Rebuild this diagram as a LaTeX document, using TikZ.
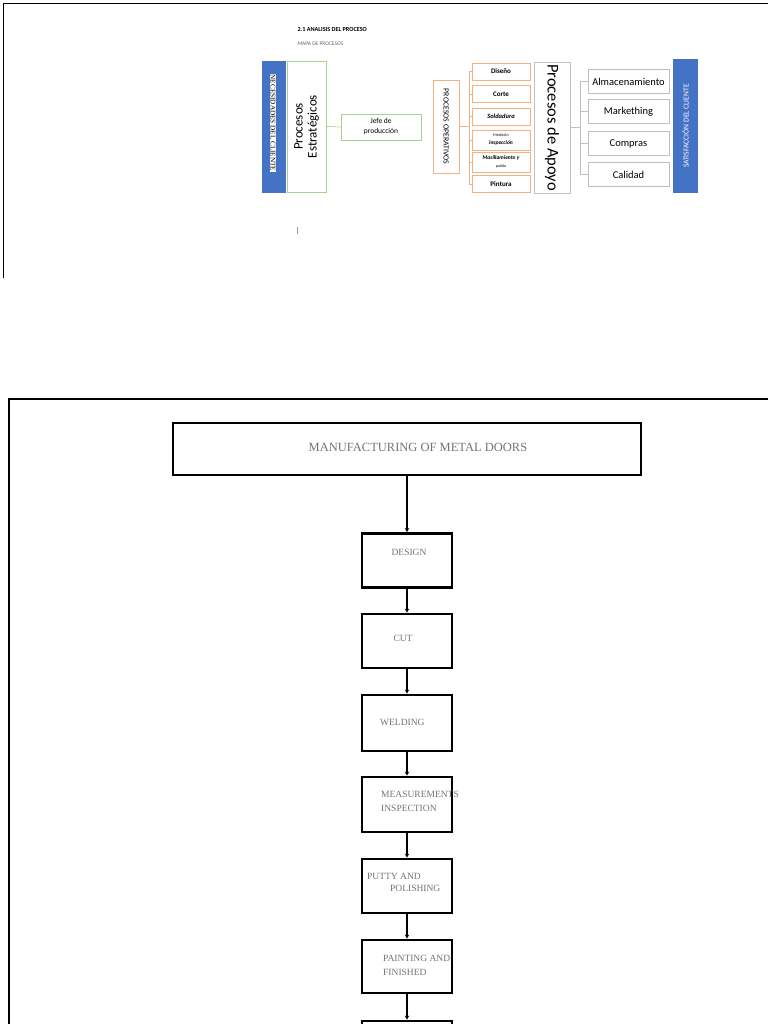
\documentclass[tikz,border=0pt]{standalone}
\usepackage{fontspec}
\setmainfont{Liberation Serif}
\newfontfamily\calibfont{Carlito}
\usetikzlibrary{positioning, arrows.meta, shadows}
\definecolor{docblue}{HTML}{4472C4}
\definecolor{docgreen}{HTML}{A9D18E}
\definecolor{docorange}{HTML}{F4B183}
\definecolor{docgray}{HTML}{BFBFBF}

\begin{document}
\begin{tikzpicture}[x=1pt, y=-1pt,
    flowbox/.style={draw, line width=2.9pt, minimum width=90pt, minimum height=54pt, inner sep=0pt},
    flowtext/.style={text=black!55, font=\fontsize{9.5}{14}\selectfont, inner sep=0pt, align=left},
    flowarrow/.style={line width=2pt, -{Stealth[length=4pt, width=4.5pt]}},
    mapbox/.style={line width=0.8pt, inner sep=0pt, align=center},
    opchild/.style={mapbox, draw=docorange, minimum width=58pt, font=\calibfont\fontsize{7}{8}\selectfont},
    supchild/.style={mapbox, draw=docgray, fill=white, minimum width=81pt, font=\calibfont\fontsize{10.5}{12}\selectfont,
        drop shadow={shadow xshift=0.8pt, shadow yshift=-0.8pt, fill=black!20}},
    mapline/.style={line width=0.7pt}
]
    \useasboundingbox (0,0) rectangle (768,1024);

    % page frames
    \draw[line width=1.2pt] (3.5,278) -- (3.5,3.5) -- (768,3.5);
    \draw[line width=2pt] (9,1024) -- (9,399) -- (768,399);

    % process map (top)
    \node[anchor=west, font=\calibfont\bfseries\fontsize{6.2}{7}\selectfont] (head) at (294,29) {2.1 ANALISIS DEL PROCESO};
    \node[anchor=west, text=black!60, font=\calibfont\fontsize{5.5}{6}\selectfont] (sub) at (294,44) {MAPA DE PROCESOS};

    \node[mapbox, rotate=-90, fill=docblue, minimum width=132pt, minimum height=24pt] (need) at (274,127) {};
    \node[rotate=-90, fill=white, inner sep=1pt, font=\fontsize{7.2}{8}\selectfont] (needtext) at (273,123) {NECESIDADES DEL CLIENTE};

    \node[mapbox, rotate=90, draw=docgreen, minimum width=131pt, minimum height=39pt,
        font=\calibfont\fontsize{13}{14}\selectfont] (estr) at (306.5,126.5) {Procesos\\Estratégicos};
    \node[mapbox, draw=docgreen, minimum width=80pt, minimum height=26pt,
        font=\calibfont\fontsize{7.5}{10}\selectfont] (jefe) at (381,127) {Jefe de\\producción};
    \draw[mapline, docgreen] (estr.south) -- (jefe.west);

    \node[mapbox, rotate=-90, draw=docorange, minimum width=93pt, minimum height=26pt,
        font=\calibfont\fontsize{7.8}{9}\selectfont] (procop) at (446,126.5) {PROCESOS OPERATIVOS};
    \foreach \nm/\yy/\hh/\txt in {dis/71.5/17/{\bfseries Diseño}, cor/94/17/{\bfseries Corte},
        sol/116.5/17/{\bfseries\itshape\fontsize{6.5}{7}\selectfont Soldadura},
        med/140/20/{{\fontsize{4}{4.5}\selectfont Medición}\\{\bfseries\itshape\fontsize{5.5}{6.5}\selectfont inspección}},
        mas/162/20/{{\bfseries\itshape\fontsize{5.5}{6.5}\selectfont Masillamiento y}\\{\fontsize{4}{4.5}\selectfont pulido}},
        pin/184/17/{\bfseries Pintura}} {
        \node[opchild, minimum height=\hh pt] (\nm) at (501,\yy) {\txt};
        \draw[mapline, docorange] (procop.north) -- ++(10,0) |- (\nm.west);
    }

    \node[mapbox, rotate=-90, draw=docgray, minimum width=131pt, minimum height=36pt,
        font=\calibfont\fontsize{16.5}{18}\selectfont] (apoyo) at (552,127.5) {Procesos de Apoyo};
    \foreach \nm/\yy/\txt in {alm/81.5/Almacenamiento, mkt/111.5/Markething, com/143.5/Compras, cal/174.5/Calidad} {
        \node[supchild, minimum height=24pt] (\nm) at (628.5,\yy) {\txt};
        \draw[mapline, docgray] (apoyo.north) -- ++(10,0) |- (\nm.west);
    }

    \node[mapbox, rotate=90, fill=docblue, text=white, minimum width=134pt, minimum height=25pt,
        font=\calibfont\fontsize{7.6}{9}\selectfont] (satis) at (685.5,126) {SATISFACCIÓN DEL CLIENTE};

    \draw[black!40, line width=0.6pt] (297,227) -- (297,234);

    % flowchart (bottom)
    \node[flowbox, minimum width=468pt, minimum height=52pt] (title) at (407,449) {};
    \node[flowtext, font=\fontsize{12.5}{14}\selectfont] (titletext) at (418,447) {MANUFACTURING OF METAL DOORS};

    \node[flowbox] (design) at (407,560.5) {};
    \node[flowbox] (cut) at (407,641) {};
    \node[flowbox, minimum height=56pt] (weld) at (407,723) {};
    \node[flowbox, minimum height=55pt] (measure) at (407,804.5) {};
    \node[flowbox] (putty) at (407,886) {};
    \node[flowbox, minimum height=53pt] (paint) at (407,966.5) {};
    \node[flowbox, minimum height=56pt] (next) at (407,1049) {};

    \node[flowtext] (designtext) at (409,552) {DESIGN};
    \node[flowtext] (cuttext) at (403,638) {CUT};
    \node[flowtext, anchor=west] (weldtext) at (380,722) {WELDING};
    \node[flowtext, anchor=west] (measuretext) at (381,801) {MEASUREMENTS\\INSPECTION};
    \node[flowtext, anchor=west] (puttytext) at (367,876) {PUTTY AND};
    \node[flowtext, anchor=west] (polishtext) at (390,888) {POLISHING};
    \node[flowtext, anchor=west] (painttext) at (383,965) {PAINTING AND\\FINISHED};

    \draw[flowarrow] (title) -- (design);
    \draw[flowarrow] (design) -- (cut);
    \draw[flowarrow] (cut) -- (weld);
    \draw[flowarrow] (weld) -- (measure);
    \draw[flowarrow] (measure) -- (putty);
    \draw[flowarrow] (putty) -- (paint);
    \draw[flowarrow] (paint) -- (next);
\end{tikzpicture}
\end{document}
